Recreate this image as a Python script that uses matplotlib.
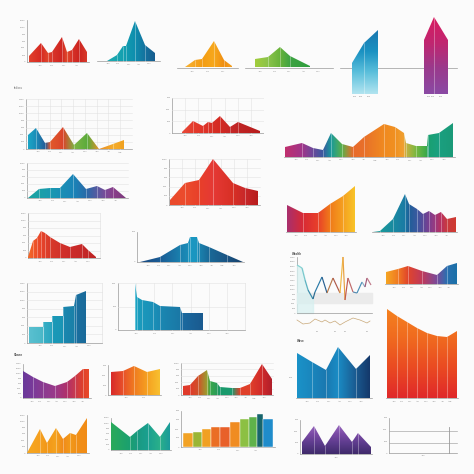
import numpy as np
import matplotlib.pyplot as plt
from matplotlib.colors import LinearSegmentedColormap
from matplotlib.patches import Polygon
from matplotlib.collections import LineCollection

# ============================================================================
# DATA (x = offset from first point, h = height of the area above its base)
# ============================================================================

red_peaks_x = [0, 12, 19, 23, 33, 38, 43, 50, 58]
red_peaks_h = [6, 19, 9, 10, 25, 10, 12, 23, 10]

teal_peak_x = [0, 10, 16, 19, 28, 38, 48]
teal_peak_h = [0, 6, 15, 15, 40, 16, 8]

orange_peak_x = [0, 10, 17, 29, 39, 47]
orange_peak_h = [0, 7, 8, 26, 7, 1]

green_hill_x = [0, 13, 25, 35, 55]
green_hill_h = [8, 10, 20, 11, 1]

blue_up_x = [12, 24, 38]
blue_up_h = [5, 25, 38]
magenta_up_x = [84, 94, 108]
magenta_up_h = [28, 51, 28]
updown_floor = -26

multi_x = [0, 8, 17, 22, 35, 46, 59, 71, 85, 96]
multi_h = [14, 21, 6, 7, 22, 4, 16, 0, 5, 9]

red_ridge_x = [0, 11, 21, 26, 30, 38, 48, 56, 78]
red_ridge_h = [1, 12, 7, 11, 10, 17, 6, 11, 2]

teal_purple_x = [0, 11, 22, 32, 45, 58, 69, 77, 85, 98]
teal_purple_h = [0, 9, 10, 10, 24, 9, 12, 8, 11, 0]

red_mountain_x = [0, 15, 29, 43, 63, 75, 88]
red_mountain_h = [5, 22, 25, 46, 22, 17, 14]

wide_x = [0, 17, 28, 38, 46, 57, 68, 79, 99, 110, 119, 121, 131, 142, 143, 154, 168]
wide_h = [10, 14, 9, 7, 24, 13, 10, 20, 33, 30, 24, 14, 11, 11, 22, 24, 34]

warm_ramp_x = [0, 16, 31, 43, 56, 68]
warm_ramp_h = [27, 19, 19, 28, 36, 46]

spike_x = [0, 7, 20, 32, 36, 44, 50, 56, 62, 68, 74, 83]
spike_h = [0, 1, 13, 38, 28, 23, 18, 21, 17, 20, 13, 15]

hump_x = [0, 5, 9, 13, 17, 22, 32, 42, 54, 60, 68]
hump_h = [1, 17, 20, 27, 25, 21, 15, 11, 14, 8, 1]

bell_x = [0, 20, 40, 48, 50, 57, 59, 69, 87, 103]
bell_h = [0, 5, 17, 19, 25, 25, 19, 15, 7, 0]

stairs_x = [0, 14, 14, 23, 23, 34, 34, 45, 47, 57]
stairs_h = [16, 16, 21, 21, 27, 27, 36, 37, 48, 52]

decay_x = [0, 0, 2, 7, 18, 25, 45, 47, 68]
decay_h = [0, 47, 33, 30, 28, 24, 23, 17, 17]

wave_x = [0, 5, 8, 11, 16, 18, 25, 30, 36, 43, 46, 48, 51, 56, 60, 65, 68, 70, 74]
wave_h = [48, 45, 33, 23, 14, 21, 36, 20, 35, 20, 56, 13, 35, 21, 20, 31, 26, 35, 28]
wave_low_x = [0, 6, 13, 18, 25, 28, 33, 38, 43, 48, 56, 63, 70, 73]
wave_low_h = [5, 1, 2, 6, 3, 5, 2, 4, 0, 3, 7, 5, 2, 4]

sunset_x = [0, 12, 22, 36, 51, 61, 71]
sunset_h = [12, 15, 18, 13, 9, 18, 21]

slope_x = [0, 10, 20, 30, 40, 50, 60, 70]
slope_h = [89, 82, 76, 70, 65, 62, 61, 67]

blue_zig_x = [0, 15, 29, 41, 59, 73]
blue_zig_h = [45, 36, 28, 51, 29, 43]

purple_tri_x = [0, 12, 23, 37, 50, 56, 69]
purple_tri_h = [12, 28, 8, 29, 12, 21, 7]

empty_levels = [10, 22]

valley_x = [0, 10, 20, 32, 44, 52, 60, 66]
valley_h = [27, 21, 16, 12, 16, 22, 29, 29]

red_yellow_x = [0, 12, 23, 36, 49]
red_yellow_h = [23, 24, 29, 23, 26]

rg_x = [0, 7, 15, 24, 27, 34, 37, 49, 57, 67, 79, 89]
rg_h = [9, 10, 19, 25, 14, 12, 8, 7, 7, 11, 31, 16]

orange_zig_x = [0, 13, 20, 29, 36, 43, 49, 60]
orange_zig_h = [0, 24, 10, 25, 14, 20, 18, 35]

green_zig_x = [0, 19, 26, 37, 49, 59]
green_zig_h = [28, 13, 19, 27, 13, 28]

bar_edges = [0, 10, 19, 28, 37, 47, 57, 66, 74, 80, 90]
bar_h = [14, 15, 18, 20, 20, 25, 28, 30, 33, 28]
bar_colors = ['#f2a225', '#9ab534', '#f0a022', '#ea6e24', '#e8602a', '#f08c22',
              '#8cc043', '#5fb24b', '#17656c', '#1f8ccb']

W = 474
fig = plt.figure(figsize=(4.74, 4.74), dpi=100)
fig.patch.set_facecolor('#fbfbfb')
TXT = '#8c8c8c'
FS = 1.6


def panel(x0, base, xr, yr):
    l, r = x0 + xr[0], x0 + xr[1]
    b, t = base - yr[0], base - yr[1]
    ax = fig.add_axes([l / W, 1 - b / W, (r - l) / W, (b - t) / W])
    ax.set_xlim(*xr)
    ax.set_ylim(*yr)
    ax.patch.set_alpha(0)
    for s in ax.spines.values():
        s.set_visible(False)
    ax.set_xticks([])
    ax.set_yticks([])
    return ax


def area(ax, xs, hs, cols, vertical=False, floor=0, lines=True):
    xs = np.asarray(xs, float)
    hs = np.asarray(hs, float)
    lim = ax.get_xlim(), ax.get_ylim()
    px = np.r_[xs[0], xs, xs[-1]]
    py = np.r_[floor, hs, floor]
    poly = Polygon(np.column_stack([px, py]), closed=True, fc='none', ec='none')
    ax.add_patch(poly)
    if vertical:
        g = np.linspace(0, 1, 128).reshape(-1, 1)
        cmap = LinearSegmentedColormap.from_list('v', cols)
    else:
        g = np.linspace(0, 1, 256).reshape(1, -1)
        if len(cols) == len(xs):
            span = xs[-1] - xs[0]
            stops = [((x - xs[0]) / span, c) for x, c in zip(xs, cols)]
            cmap = LinearSegmentedColormap.from_list('h', stops)
        else:
            cmap = LinearSegmentedColormap.from_list('h', cols)
    im = ax.imshow(g, cmap=cmap, aspect='auto', origin='lower', interpolation='bilinear',
                   extent=[xs[0], xs[-1], floor, hs.max()], zorder=1)
    im.set_clip_path(poly)
    if lines:
        for x, h in zip(xs[1:-1], hs[1:-1]):
            ax.plot([x, x], [floor, h], color='white', lw=0.5, alpha=0.45, zorder=2)
    ax.set_xlim(*lim[0])
    ax.set_ylim(*lim[1])


def yaxis(ax, x, top, n=5, grid_to=None, frame=False):
    ax.plot([x, x], [0, top], color='#999999', lw=0.5, zorder=0)
    for i, v in enumerate(np.linspace(0, top, n + 1)):
        ax.text(x - 1.5, v, str(i * 200), fontsize=FS, color=TXT, ha='right', va='center')
        if grid_to is not None and i > 0:
            ax.plot([x, grid_to], [v, v], color='#e2e2e2', lw=0.4, zorder=0)
    if frame and grid_to is not None:
        ax.plot([grid_to, grid_to], [0, top], color='#dddddd', lw=0.4, zorder=0)


def xaxis(ax, x1, x2, n=5, y=0, labels=True, grid_top=None):
    ax.plot([x1, x2], [y, y], color='#999999', lw=0.5, zorder=0)
    if labels:
        for i, v in enumerate(np.linspace(x1, x2, n + 2)[1:-1]):
            ax.text(v, y - 2.5, ['Jan', 'Feb', 'Mar', 'Apr', 'May', 'Jun', 'Jul', 'Aug'][i % 8],
                    fontsize=FS, color=TXT, ha='center', va='top')
            if grid_top is not None:
                ax.plot([v, v], [y, grid_top], color='#e2e2e2', lw=0.4, zorder=0)


# ---- row 1 ----
ax = panel(29, 62, (-14, 62), (-9, 44))
yaxis(ax, -2, 42, 6)
xaxis(ax, -2, 60, 4, labels=True)
area(ax, red_peaks_x, red_peaks_h,
     ['#e2402c', '#d62a22', '#e0462c', '#d9352a', '#cf2520', '#e04a2c', '#d83328', '#cc2420', '#d8392a'])

ax = panel(107, 61, (-12, 55), (-8, 42))
xaxis(ax, -10, 53, 5)
area(ax, teal_peak_x, teal_peak_h,
     ['#20aab0', '#1aa6b0', '#14a0b0', '#129cb0', '#0e8eae', '#14729f', '#175c8e'])

ax = panel(185, 67, (-10, 56), (-8, 30))
xaxis(ax, -8, 53, 3, y=-1)
area(ax, orange_peak_x, orange_peak_h,
     ['#f7b234', '#f5a623', '#f39c12', '#f7a81c', '#ef8e12', '#f5a020'])

ax = panel(255, 67, (-11, 80), (-8, 22))
xaxis(ax, -10, 78, 5, y=-1)
area(ax, green_hill_x, green_hill_h, ['#a2cd3c', '#8bc34a', '#68b33a', '#3ea342', '#2e9e3e'])

ax = panel(340, 68, (-2, 120), (-32, 54))
area(ax, blue_up_x, blue_up_h, ['#b2e4f0', '#5cc0dc', '#1a92c2', '#1a78b0'],
     vertical=True, floor=updown_floor)
area(ax, magenta_up_x, magenta_up_h, ['#8a4aa4', '#9a3a8c', '#c02670', '#d81b60'],
     vertical=True, floor=updown_floor)
xaxis(ax, 0, 117, 0, labels=False)
for xx in (14, 20, 28, 88, 92, 100):
    ax.text(xx + 1, updown_floor - 2, '120', fontsize=FS, color=TXT, ha='center', va='top')

# ---- row 2 ----
ax = panel(28, 149, (-16, 106), (-6, 54))
yaxis(ax, -2, 50, 7, grid_to=104)
xaxis(ax, -2, 104, 8, grid_top=50)
area(ax, multi_x, multi_h,
     ['#1ba6c6', '#1a8cb8', '#235c98', '#e2592c', '#d9452b', '#7db544', '#5aab3c',
      '#e8902a', '#f5ad2a', '#f0a020'])
fig.text(14 / W, 1 - 89 / W, 'Indices', fontsize=1.8, color='#666666')

ax = panel(182, 133, (-14, 82), (-7, 36))
yaxis(ax, -10, 35, 3, grid_to=82)
xaxis(ax, -10, 82, 6, grid_top=35)
area(ax, red_ridge_x, red_ridge_h,
     ['#e84a3a', '#e53b2c', '#e0352a', '#dd3228', '#d83025', '#d42a22', '#c62828', '#c02525', '#b71c1c'])

ax = panel(28, 198, (-15, 102), (-7, 37))
yaxis(ax, -1, 35, 5, grid_to=100)
xaxis(ax, -1, 100, 7)
area(ax, teal_purple_x, teal_purple_h,
     ['#1aa3a0', '#1aa0a8', '#1a9ab0', '#1a90b5', '#1a85b8', '#2a6aa8', '#5a5aa0', '#7a4a98', '#8a3f8a', '#7a3a7a'])

ax = panel(170, 205, (-14, 92), (-7, 48))
yaxis(ax, -1, 46, 5, grid_to=90)
xaxis(ax, -1, 90, 6, grid_top=46)
area(ax, red_mountain_x, red_mountain_h,
     ['#ea4a2c', '#ec4c2c', '#e8402a', '#e53935', '#d83025', '#c8282a', '#b71c1c'])

ax = panel(285, 157, (-2, 172), (-6, 38))
xaxis(ax, -1, 170, 14, labels=True)
area(ax, wide_x, wide_h,
     ['#c0306e', '#a0358a', '#6a4a9a', '#3a5aa0', '#1a9a9a', '#5ab04a', '#e86a2a', '#e8702a',
      '#f08a20', '#f09020', '#f0a030', '#c8b040', '#7ab840', '#3aaa4a', '#1aa070', '#1aa080', '#1a9a78'])

# ---- row 3 ----
ax = panel(287, 232, (-2, 70), (-6, 48))
xaxis(ax, -1, 69, 6)
area(ax, warm_ramp_x, warm_ramp_h,
     ['#a8306e', '#d82a35', '#e8402a', '#f07a1a', '#f5a020', '#f8c428'])

ax = panel(373, 232, (-2, 86), (-6, 42))
xaxis(ax, -1, 84, 7)
area(ax, spike_x, spike_h,
     ['#1a9a9a', '#1a9a9a', '#1a8aa0', '#1a7aa5', '#1f5f98', '#3a5aa0', '#5a4a9a', '#7a3f90',
      '#9a3a80', '#b83060', '#c83a40', '#d03a30'])

ax = panel(28, 258, (-15, 74), (-7, 46))
yaxis(ax, 0, 45, 6, grid_to=72, frame=True)
xaxis(ax, 0, 72, 5)
area(ax, hump_x, hump_h,
     ['#f26a28', '#f05a28', '#ec4f2a', '#e8442a', '#e0402a', '#d83a2a', '#d2322a', '#cc2c2a',
      '#c62828', '#c22626', '#be2424'])

ax = panel(140, 262, (-6, 106), (-7, 32))
yaxis(ax, -3, 30, 1)
xaxis(ax, -3, 104, 9)
area(ax, bell_x, bell_h,
     ['#1a4a80', '#1a5c95', '#1a80ae', '#1a8cb8', '#1a98c2', '#1a95c0', '#1a84b0', '#1a6a98', '#1a5484', '#15406a'])

# ---- row 4 ----
ax = panel(29, 343, (-14, 74), (-8, 61))
yaxis(ax, -2, 60, 7, grid_to=73, frame=True)
xaxis(ax, -2, 73, 5)
area(ax, stairs_x, stairs_h,
     ['#5ac0d0', '#4ab8c8', '#3ab0c5', '#2aa5c0', '#1a9ab8', '#1a95b5', '#1a88b0', '#1a80a8', '#1a70a0', '#1a6a9a'])
fig.text(14 / W, 1 - 356 / W, 'Share', fontsize=2, color='#555555', weight='bold')

ax = panel(135, 330, (-20, 112), (-6, 50))
yaxis(ax, -17, 47, 2, grid_to=110, frame=True)
xaxis(ax, -17, 110, 6, grid_top=47)
area(ax, decay_x, decay_h,
     ['#1aa8c8', '#1aa8c8', '#1aa0c0', '#1a98bb', '#1a90b8', '#1a88b2', '#1a78a6', '#1a6aa0', '#1a5a8f'])

ax = panel(297, 313, (-6, 78), (-20, 60))
yaxis(ax, 0, 56, 12)
ax.plot([0, 75], [0, 0], color='#999999', lw=0.5)
ax.fill_between([0, 75], 10, 20, color='#ebebeb', zorder=0)
ax.fill_between(wave_x[:5], 0, wave_h[:5], color='#d6f0f0', alpha=0.7, zorder=0)
pts = np.column_stack([wave_x, wave_h])
segs = np.stack([pts[:-1], pts[1:]], axis=1)
wave_cols = ['#86d2d2', '#78c8cc', '#5ab0c0', '#3a88a8', '#2a6a90', '#2a7aa8', '#2a6090', '#b87a4a',
             '#b05a4a', '#f0b845', '#e8a040', '#c05a50', '#c06a6a', '#5a8ab0', '#4a90b8', '#8ab0c8',
             '#a05a7a', '#c07a8a']
ax.add_collection(LineCollection(segs, colors=wave_cols, lw=0.85))
ax.plot(wave_low_x, np.array(wave_low_h) - 12, color='#c8a878', lw=0.5)
for xx in (20, 38, 48, 70):
    ax.text(xx, -19, '30', fontsize=FS, color=TXT, ha='center')
fig.text(292 / W, 1 - 255 / W, 'Wealth', fontsize=1.8, color='#555555', weight='bold')

ax = panel(386, 284, (-2, 74), (-6, 24))
xaxis(ax, -1, 72, 7)
area(ax, sunset_x, sunset_h,
     ['#f5a623', '#f07a22', '#e0452c', '#c03a5a', '#7a4a9a', '#2a70b0', '#1a70a8'])

# ---- row 5 ----
ax = panel(387, 398, (-2, 72), (-6, 92))
xaxis(ax, -1, 71, 8, labels=True)
area(ax, slope_x, slope_h, ['#e0282a', '#ea4a22', '#f06a1f', '#f5821f'], vertical=True)

ax = panel(297, 398, (-2, 76), (-6, 53))
xaxis(ax, -1, 75, 6)
area(ax, blue_zig_x, blue_zig_h, ['#1a92c8', '#1a86bd', '#1a78b0', '#1a8cc5', '#1a5a90', '#14386a'])
ax.text(-4, 20, '100', fontsize=FS, color=TXT, ha='right')
fig.text(297 / W, 1 - 342 / W, 'Wave', fontsize=1.8, color='#555555', weight='bold')

ax = panel(23, 398, (-14, 70), (-8, 36))
yaxis(ax, 0, 34, 7)
xaxis(ax, 0, 68, 7)
area(ax, valley_x, valley_h,
     ['#6a3a9a', '#7a3a9a', '#8a3a90', '#9a3a8a', '#b0306a', '#c83a50', '#e0402a', '#e84a2a'])

ax = panel(111, 395, (-6, 52), (-6, 31))
yaxis(ax, -3, 30, 3)
xaxis(ax, -3, 50, 2)
area(ax, red_yellow_x, red_yellow_h, ['#d82a2a', '#e8502a', '#f07a20', '#f5a020', '#f8c030'])

ax = panel(183, 395, (-10, 92), (-8, 34))
yaxis(ax, -2, 32, 5, grid_to=90)
xaxis(ax, -2, 90, 9)
area(ax, rg_x, rg_h,
     ['#e03a2a', '#e03a2a', '#d0502a', '#9aa030', '#3aa84a', '#2a9a5a', '#1a9a6a', '#1a9a70',
      '#e0402a', '#e0402a', '#d02a2a', '#b01f2a'])

# ---- row 6 ----
ax = panel(27, 453, (-14, 64), (-7, 40))
yaxis(ax, 0, 38, 6)
xaxis(ax, 0, 62, 5)
area(ax, orange_zig_x, orange_zig_h, ['#f7a81f', '#f5a020', '#f29818', '#f5a21e', '#f08a1a', '#f39a1a', '#f09018', '#f28c16'])

ax = panel(111, 450, (-10, 62), (-7, 34))
yaxis(ax, 0, 32, 6)
xaxis(ax, 0, 60, 5)
area(ax, green_zig_x, green_zig_h, ['#2aaa5a', '#1aa070', '#1a9a80', '#1aa090', '#2ab08a', '#1a9a9a'])

ax = panel(183, 447, (-8, 94), (-7, 38))
yaxis(ax, -2, 36, 4)
xaxis(ax, -2, 92, 4)
ax.bar(bar_edges[:-1], bar_h, width=np.diff(bar_edges), align='edge', color=bar_colors,
       edgecolor='white', linewidth=0.3, zorder=1)

ax = panel(302, 454, (-10, 72), (-8, 36))
yaxis(ax, -2, 34, 3)
xaxis(ax, -2, 70, 1)
area(ax, purple_tri_x, purple_tri_h, ['#3f2a6a', '#5a3a8a', '#7a4aa5', '#9a6ac0'], vertical=True)

ax = panel(389, 453, (-8, 74), (-8, 40))
yaxis(ax, 0, 35, 3)
xaxis(ax, 0, 68, 1)
for lv in empty_levels:
    ax.plot([0, 68], [lv, lv], color='#aaaaaa', lw=0.5)
ax.plot([60, 60], [0, 26], color='#999999', lw=0.6)

fig.savefig('out.png', dpi=100, facecolor=fig.get_facecolor())
